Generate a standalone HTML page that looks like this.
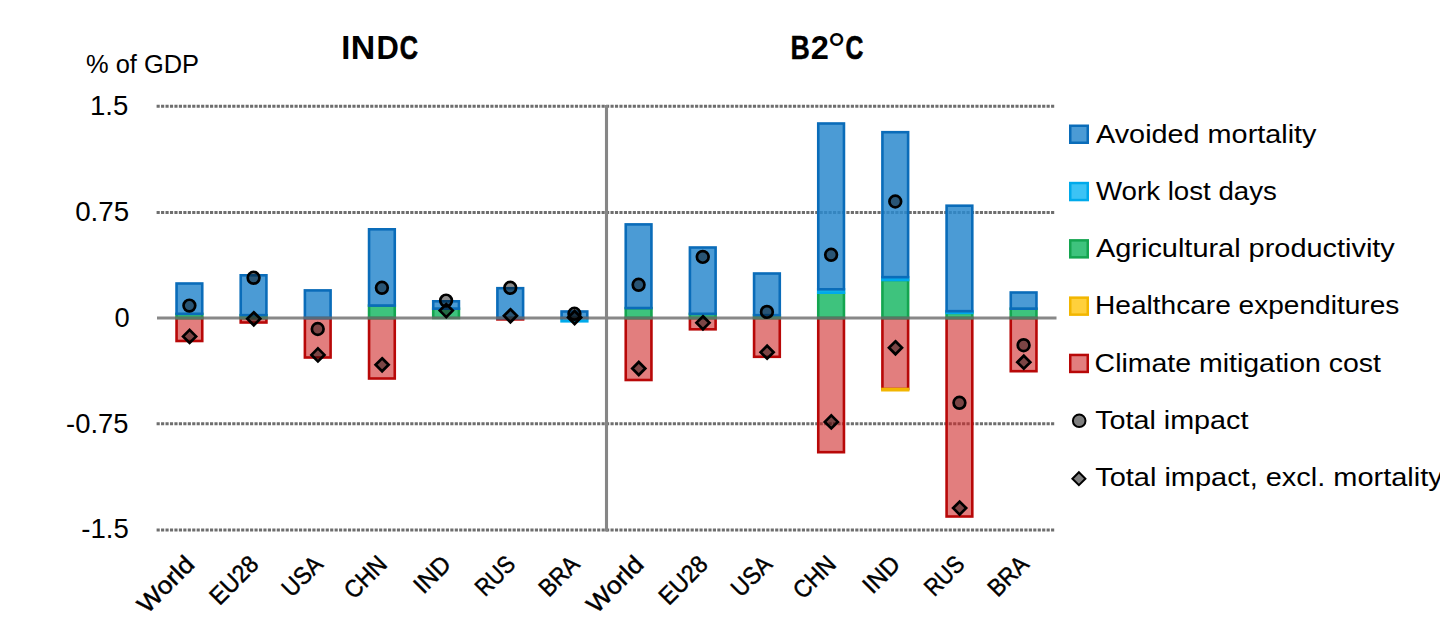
<!DOCTYPE html>
<html lang="en"><head><meta charset="utf-8"><title>Co-benefits chart</title>
<style>
html,body{margin:0;padding:0;background:#fff;}
body{width:1440px;height:640px;overflow:hidden;}
svg{display:block;}
text{font-family:"Liberation Sans",Arial,sans-serif;fill:#000;}
.b{font-weight:bold;}
</style></head><body>
<svg width="1440" height="640" viewBox="0 0 1440 640">
<rect width="1440" height="640" fill="#fff"/>
<g stroke="#6e6e6e" stroke-width="3.1" stroke-dasharray="3.15 1.3" fill="none">
<line x1="156.6" y1="106.2" x2="1055.4" y2="106.2"/>
<line x1="156.6" y1="212.5" x2="1055.4" y2="212.5"/>
<line x1="156.6" y1="423.7" x2="1055.4" y2="423.7"/>
<line x1="156.6" y1="530.0" x2="1055.4" y2="530.0"/>
</g>
<g>
<rect x="176.55" y="318.00" width="25.70" height="23.00" fill="rgb(207,40,40)" fill-opacity="0.6" stroke="#B80808" stroke-width="2.6"/>
<rect x="176.55" y="313.90" width="25.70" height="4.10" fill="rgb(14,180,92)" fill-opacity="0.8" stroke="#14A550" stroke-width="2.6"/>
<rect x="176.55" y="283.50" width="25.70" height="30.40" fill="rgb(44,137,206)" fill-opacity="0.85" stroke="#0A6CB9" stroke-width="2.6"/>
<rect x="240.72" y="318.00" width="25.70" height="4.50" fill="rgb(207,40,40)" fill-opacity="0.6" stroke="#B80808" stroke-width="2.6"/>
<rect x="240.72" y="315.20" width="25.70" height="2.80" fill="rgb(14,180,92)" fill-opacity="0.8" stroke="#14A550" stroke-width="2.6"/>
<rect x="240.72" y="275.30" width="25.70" height="39.90" fill="rgb(44,137,206)" fill-opacity="0.85" stroke="#0A6CB9" stroke-width="2.6"/>
<rect x="304.89" y="318.00" width="25.70" height="39.50" fill="rgb(207,40,40)" fill-opacity="0.6" stroke="#B80808" stroke-width="2.6"/>
<rect x="304.89" y="290.40" width="25.70" height="27.60" fill="rgb(44,137,206)" fill-opacity="0.85" stroke="#0A6CB9" stroke-width="2.6"/>
<rect x="369.06" y="318.00" width="25.70" height="60.50" fill="rgb(207,40,40)" fill-opacity="0.6" stroke="#B80808" stroke-width="2.6"/>
<rect x="369.06" y="305.60" width="25.70" height="12.40" fill="rgb(14,180,92)" fill-opacity="0.8" stroke="#14A550" stroke-width="2.6"/>
<rect x="369.06" y="229.30" width="25.70" height="76.30" fill="rgb(44,137,206)" fill-opacity="0.85" stroke="#0A6CB9" stroke-width="2.6"/>
<rect x="433.23" y="308.70" width="25.70" height="9.30" fill="rgb(14,180,92)" fill-opacity="0.8" stroke="#14A550" stroke-width="2.6"/>
<rect x="433.23" y="301.30" width="25.70" height="7.40" fill="rgb(44,137,206)" fill-opacity="0.85" stroke="#0A6CB9" stroke-width="2.6"/>
<rect x="497.40" y="318.00" width="25.70" height="1.40" fill="rgb(207,40,40)" fill-opacity="0.6" stroke="#B80808" stroke-width="2.6"/>
<rect x="497.40" y="288.20" width="25.70" height="29.80" fill="rgb(44,137,206)" fill-opacity="0.85" stroke="#0A6CB9" stroke-width="2.6"/>
<rect x="561.57" y="318.00" width="25.70" height="3.30" fill="rgb(11,180,242)" fill-opacity="0.8" stroke="#00AAEB" stroke-width="2.6"/>
<rect x="561.57" y="311.50" width="25.70" height="6.50" fill="rgb(44,137,206)" fill-opacity="0.85" stroke="#0A6CB9" stroke-width="2.6"/>
<rect x="625.74" y="318.00" width="25.70" height="62.00" fill="rgb(207,40,40)" fill-opacity="0.6" stroke="#B80808" stroke-width="2.6"/>
<rect x="625.74" y="308.10" width="25.70" height="9.90" fill="rgb(14,180,92)" fill-opacity="0.8" stroke="#14A550" stroke-width="2.6"/>
<rect x="625.74" y="224.40" width="25.70" height="83.70" fill="rgb(44,137,206)" fill-opacity="0.85" stroke="#0A6CB9" stroke-width="2.6"/>
<rect x="689.91" y="318.00" width="25.70" height="11.30" fill="rgb(207,40,40)" fill-opacity="0.6" stroke="#B80808" stroke-width="2.6"/>
<rect x="689.91" y="313.90" width="25.70" height="4.10" fill="rgb(14,180,92)" fill-opacity="0.8" stroke="#14A550" stroke-width="2.6"/>
<rect x="689.91" y="247.50" width="25.70" height="66.40" fill="rgb(44,137,206)" fill-opacity="0.85" stroke="#0A6CB9" stroke-width="2.6"/>
<rect x="754.08" y="318.00" width="25.70" height="38.80" fill="rgb(207,40,40)" fill-opacity="0.6" stroke="#B80808" stroke-width="2.6"/>
<rect x="754.08" y="315.20" width="25.70" height="2.80" fill="rgb(14,180,92)" fill-opacity="0.8" stroke="#14A550" stroke-width="2.6"/>
<rect x="754.08" y="273.50" width="25.70" height="41.70" fill="rgb(44,137,206)" fill-opacity="0.85" stroke="#0A6CB9" stroke-width="2.6"/>
<rect x="818.25" y="318.00" width="25.70" height="134.20" fill="rgb(207,40,40)" fill-opacity="0.6" stroke="#B80808" stroke-width="2.6"/>
<rect x="818.25" y="292.70" width="25.70" height="25.30" fill="rgb(14,180,92)" fill-opacity="0.8" stroke="#14A550" stroke-width="2.6"/>
<rect x="818.25" y="289.30" width="25.70" height="3.40" fill="rgb(11,180,242)" fill-opacity="0.8" stroke="#00AAEB" stroke-width="2.6"/>
<rect x="818.25" y="123.50" width="25.70" height="165.80" fill="rgb(44,137,206)" fill-opacity="0.85" stroke="#0A6CB9" stroke-width="2.6"/>
<rect x="882.42" y="318.00" width="25.70" height="71.00" fill="rgb(207,40,40)" fill-opacity="0.6" stroke="#B80808" stroke-width="2.6"/>
<rect x="882.42" y="389.00" width="25.70" height="1.20" fill="rgb(255,196,11)" fill-opacity="0.8" stroke="#F2B600" stroke-width="2.6"/>
<rect x="882.42" y="280.00" width="25.70" height="38.00" fill="rgb(14,180,92)" fill-opacity="0.8" stroke="#14A550" stroke-width="2.6"/>
<rect x="882.42" y="277.20" width="25.70" height="2.80" fill="rgb(11,180,242)" fill-opacity="0.8" stroke="#00AAEB" stroke-width="2.6"/>
<rect x="882.42" y="132.20" width="25.70" height="145.00" fill="rgb(44,137,206)" fill-opacity="0.85" stroke="#0A6CB9" stroke-width="2.6"/>
<rect x="946.59" y="318.00" width="25.70" height="198.50" fill="rgb(207,40,40)" fill-opacity="0.6" stroke="#B80808" stroke-width="2.6"/>
<rect x="946.59" y="312.90" width="25.70" height="5.10" fill="rgb(14,180,92)" fill-opacity="0.8" stroke="#14A550" stroke-width="2.6"/>
<rect x="946.59" y="311.20" width="25.70" height="1.70" fill="rgb(11,180,242)" fill-opacity="0.8" stroke="#00AAEB" stroke-width="2.6"/>
<rect x="946.59" y="205.70" width="25.70" height="105.50" fill="rgb(44,137,206)" fill-opacity="0.85" stroke="#0A6CB9" stroke-width="2.6"/>
<rect x="1010.76" y="318.00" width="25.70" height="53.20" fill="rgb(207,40,40)" fill-opacity="0.6" stroke="#B80808" stroke-width="2.6"/>
<rect x="1010.76" y="308.70" width="25.70" height="9.30" fill="rgb(14,180,92)" fill-opacity="0.8" stroke="#14A550" stroke-width="2.6"/>
<rect x="1010.76" y="292.50" width="25.70" height="16.20" fill="rgb(44,137,206)" fill-opacity="0.85" stroke="#0A6CB9" stroke-width="2.6"/>
</g>
<line x1="157" y1="318" x2="1056.5" y2="318" stroke="#6a6a6a" stroke-width="3.2" stroke-opacity="0.8"/>
<line x1="606.5" y1="105" x2="606.5" y2="531.5" stroke="#868686" stroke-width="3.1"/>
<g fill="#000" fill-opacity="0.45" stroke="#000" stroke-width="2.7" stroke-linejoin="miter">
<circle cx="189.40" cy="305.6" r="5.85"/>
<circle cx="253.57" cy="277.8" r="5.85"/>
<circle cx="317.74" cy="329.0" r="5.85"/>
<circle cx="381.91" cy="287.8" r="5.85"/>
<circle cx="446.08" cy="300.6" r="5.85"/>
<circle cx="510.25" cy="287.8" r="5.85"/>
<circle cx="574.42" cy="313.8" r="5.85"/>
<circle cx="638.59" cy="284.8" r="5.85"/>
<circle cx="702.76" cy="256.9" r="5.85"/>
<circle cx="766.93" cy="311.9" r="5.85"/>
<circle cx="831.10" cy="254.8" r="5.85"/>
<circle cx="895.27" cy="201.5" r="5.85"/>
<circle cx="959.44" cy="402.8" r="5.85"/>
<circle cx="1023.61" cy="345.2" r="5.85"/>
<path d="M189.60 329.90L196.10 336.40L189.60 342.90L183.10 336.40Z"/>
<path d="M253.77 312.30L260.27 318.80L253.77 325.30L247.27 318.80Z"/>
<path d="M317.94 348.40L324.44 354.90L317.94 361.40L311.44 354.90Z"/>
<path d="M382.11 358.30L388.61 364.80L382.11 371.30L375.61 364.80Z"/>
<path d="M446.28 304.10L452.78 310.60L446.28 317.10L439.78 310.60Z"/>
<path d="M510.45 309.30L516.95 315.80L510.45 322.30L503.95 315.80Z"/>
<path d="M574.62 311.00L581.12 317.50L574.62 324.00L568.12 317.50Z"/>
<path d="M638.79 362.00L645.29 368.50L638.79 375.00L632.29 368.50Z"/>
<path d="M702.96 316.30L709.46 322.80L702.96 329.30L696.46 322.80Z"/>
<path d="M767.13 345.70L773.63 352.20L767.13 358.70L760.63 352.20Z"/>
<path d="M831.30 415.40L837.80 421.90L831.30 428.40L824.80 421.90Z"/>
<path d="M895.47 341.30L901.97 347.80L895.47 354.30L888.97 347.80Z"/>
<path d="M959.64 501.60L966.14 508.10L959.64 514.60L953.14 508.10Z"/>
<path d="M1023.81 355.70L1030.31 362.20L1023.81 368.70L1017.31 362.20Z"/>
</g>
<text class="b" y="58.7" font-size="32.6"><tspan x="341.3">I</tspan><tspan x="350.8" textLength="24.5" lengthAdjust="spacingAndGlyphs">N</tspan><tspan x="376.4" textLength="22.36" lengthAdjust="spacingAndGlyphs">D</tspan><tspan x="399.8" textLength="18.2" lengthAdjust="spacingAndGlyphs" stroke="#000" stroke-width="0.7">C</tspan></text>
<text class="b" y="58.5" font-size="32.6"><tspan x="790.5" textLength="19.3" lengthAdjust="spacingAndGlyphs" stroke="#000" stroke-width="0.4">B</tspan><tspan x="810.8">2</tspan><tspan x="827.2" font-weight="normal" font-size="46.8" dy="7.3">°</tspan><tspan x="845.5" dy="-7.3" textLength="17.8" lengthAdjust="spacingAndGlyphs" stroke="#000" stroke-width="0.7">C</tspan></text>
<text x="86" y="73.2" font-size="26.5" textLength="113" lengthAdjust="spacingAndGlyphs">% of GDP</text>
<text x="90.0" y="114.6" font-size="27.0" textLength="38.3" lengthAdjust="spacingAndGlyphs">1.5</text>
<text x="75.2" y="220.8" font-size="27.0" textLength="54.0" lengthAdjust="spacingAndGlyphs">0.75</text>
<text x="114.6" y="326.5" font-size="27.0" textLength="15.2" lengthAdjust="spacingAndGlyphs">0</text>
<text x="66.1" y="432.6" font-size="27.0" textLength="62.3" lengthAdjust="spacingAndGlyphs">-0.75</text>
<text x="81.3" y="538.3" font-size="27.0" textLength="47.5" lengthAdjust="spacingAndGlyphs">-1.5</text>
<text transform="translate(195.90 565.8) rotate(-45)" x="-68.8" y="0" font-size="24.6" textLength="68.8" lengthAdjust="spacingAndGlyphs" stroke="#000" stroke-width="0.45">World</text>
<text transform="translate(260.07 565.8) rotate(-45)" x="-57.3" y="0" font-size="24.6" textLength="57.3" lengthAdjust="spacingAndGlyphs" stroke="#000" stroke-width="0.45">EU28</text>
<text transform="translate(324.24 565.8) rotate(-45)" x="-45.8" y="0" font-size="24.6" textLength="45.8" lengthAdjust="spacingAndGlyphs" stroke="#000" stroke-width="0.45">USA</text>
<text transform="translate(388.41 565.8) rotate(-45)" x="-48.8" y="0" font-size="24.6" textLength="48.8" lengthAdjust="spacingAndGlyphs" stroke="#000" stroke-width="0.45">CHN</text>
<text transform="translate(452.58 565.8) rotate(-45)" x="-41.3" y="0" font-size="24.6" textLength="41.3" lengthAdjust="spacingAndGlyphs" stroke="#000" stroke-width="0.45">IND</text>
<text transform="translate(516.75 565.8) rotate(-45)" x="-44.8" y="0" font-size="24.6" textLength="44.8" lengthAdjust="spacingAndGlyphs" stroke="#000" stroke-width="0.45">RUS</text>
<text transform="translate(580.92 565.8) rotate(-45)" x="-45.599999999999994" y="0" font-size="24.6" textLength="45.599999999999994" lengthAdjust="spacingAndGlyphs" stroke="#000" stroke-width="0.45">BRA</text>
<text transform="translate(645.09 565.8) rotate(-45)" x="-68.8" y="0" font-size="24.6" textLength="68.8" lengthAdjust="spacingAndGlyphs" stroke="#000" stroke-width="0.45">World</text>
<text transform="translate(709.26 565.8) rotate(-45)" x="-57.3" y="0" font-size="24.6" textLength="57.3" lengthAdjust="spacingAndGlyphs" stroke="#000" stroke-width="0.45">EU28</text>
<text transform="translate(773.43 565.8) rotate(-45)" x="-45.8" y="0" font-size="24.6" textLength="45.8" lengthAdjust="spacingAndGlyphs" stroke="#000" stroke-width="0.45">USA</text>
<text transform="translate(837.60 565.8) rotate(-45)" x="-48.8" y="0" font-size="24.6" textLength="48.8" lengthAdjust="spacingAndGlyphs" stroke="#000" stroke-width="0.45">CHN</text>
<text transform="translate(901.77 565.8) rotate(-45)" x="-41.3" y="0" font-size="24.6" textLength="41.3" lengthAdjust="spacingAndGlyphs" stroke="#000" stroke-width="0.45">IND</text>
<text transform="translate(965.94 565.8) rotate(-45)" x="-44.8" y="0" font-size="24.6" textLength="44.8" lengthAdjust="spacingAndGlyphs" stroke="#000" stroke-width="0.45">RUS</text>
<text transform="translate(1030.11 565.8) rotate(-45)" x="-45.599999999999994" y="0" font-size="24.6" textLength="45.599999999999994" lengthAdjust="spacingAndGlyphs" stroke="#000" stroke-width="0.45">BRA</text>
<rect x="1070.25" y="125.75" width="17.5" height="17" fill="rgb(44,137,206)" fill-opacity="0.85" stroke="#0A6CB9" stroke-width="2.5"/>
<text x="1096.0" y="142.5" font-size="26.5" textLength="220.5" lengthAdjust="spacingAndGlyphs">Avoided mortality</text>
<rect x="1070.25" y="183.05" width="17.5" height="17" fill="rgb(11,180,242)" fill-opacity="0.8" stroke="#00AAEB" stroke-width="2.5"/>
<text x="1096.0" y="199.8" font-size="26.5" textLength="180.9" lengthAdjust="spacingAndGlyphs">Work lost days</text>
<rect x="1070.25" y="240.35" width="17.5" height="17" fill="rgb(14,180,92)" fill-opacity="0.8" stroke="#14A550" stroke-width="2.5"/>
<text x="1096.0" y="257.1" font-size="26.5" textLength="298.8" lengthAdjust="spacingAndGlyphs">Agricultural productivity</text>
<rect x="1070.25" y="297.65" width="17.5" height="17" fill="rgb(255,196,11)" fill-opacity="0.8" stroke="#F2B600" stroke-width="2.5"/>
<text x="1095.0" y="314.4" font-size="26.5" textLength="304.3" lengthAdjust="spacingAndGlyphs">Healthcare expenditures</text>
<rect x="1070.25" y="354.95" width="17.5" height="17" fill="rgb(207,40,40)" fill-opacity="0.6" stroke="#B80808" stroke-width="2.5"/>
<text x="1094.6" y="371.7" font-size="26.5" textLength="286.4" lengthAdjust="spacingAndGlyphs">Climate mitigation cost</text>
<circle cx="1079.2" cy="420.8" r="6.3" fill="#000" fill-opacity="0.5" stroke="#000" stroke-width="2"/>
<text x="1095.2" y="429.0" font-size="26.5" textLength="153.2" lengthAdjust="spacingAndGlyphs">Total impact</text>
<path d="M1078.9 472.2L1085.4 478.7L1078.9 485.2L1072.4 478.7Z" fill="#000" fill-opacity="0.5" stroke="#000" stroke-width="2"/>
<text x="1095.2" y="486.3" font-size="26.5" textLength="347.5" lengthAdjust="spacingAndGlyphs">Total impact, excl. mortality</text>
</svg></body></html>
